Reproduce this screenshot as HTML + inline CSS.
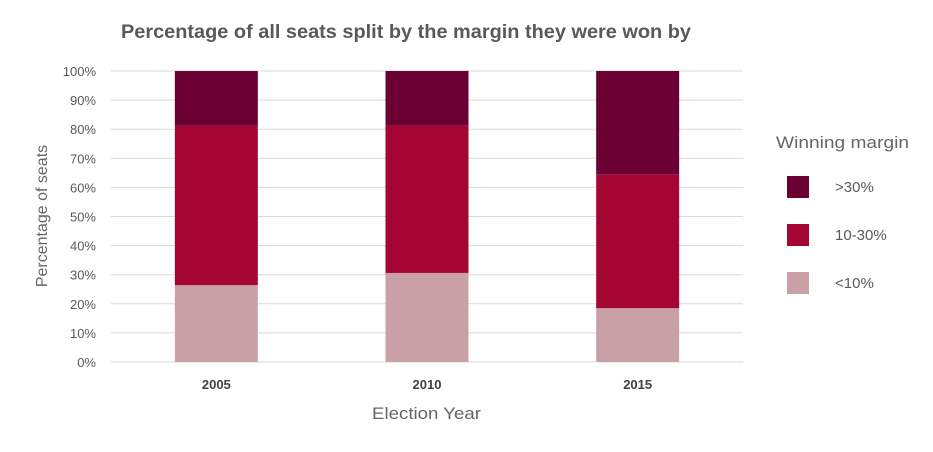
<!DOCTYPE html>
<html><head><meta charset="utf-8"><style>
html,body{margin:0;padding:0;background:#fff;}
svg{display:block;font-family:"Liberation Sans",sans-serif;}
</style></head><body>
<svg id="chart" width="933" height="452" viewBox="0 0 933 452">
<text x="121" y="38" font-size="19" font-weight="bold" fill="#595959" textLength="570" lengthAdjust="spacingAndGlyphs">Percentage of all seats split by the margin they were won by</text>
<g id="grid"></g>
<g id="yticks"></g>
<g id="bars"></g>
<g id="xticks"></g>
<text transform="translate(47,216) rotate(-90)" text-anchor="middle" font-size="16" fill="#666">Percentage of seats</text>
<text x="372" y="419" font-size="17" fill="#666" textLength="109" lengthAdjust="spacingAndGlyphs">Election Year</text>
<g id="legend">
<text x="776" y="148" font-size="17" fill="#666" textLength="133" lengthAdjust="spacingAndGlyphs">Winning margin</text>
</g>
</svg>
<script>
const categories = ["2005", "2010", "2015"];
const seriesNames = [">30%", "10-30%", "<10%"];
const lowValues = [26.4, 30.6, 18.5];
const midValues = [54.9, 50.7, 46.0];
const highValues = [18.7, 18.7, 35.5];
const yTicks = [0, 10, 20, 30, 40, 50, 60, 70, 80, 90, 100];
const colors = ["#6b0033", "#a50533", "#c9a0a6"];

const NS = "http://www.w3.org/2000/svg";
const y0 = 362, y1 = 71, xL = 111, xR = 743;
const yScale = v => y0 - (v / 100) * (y0 - y1);
const band = (xR - xL) / categories.length;
const xCenter = i => xL + band * (i + 0.5);
const barW = 83;
function mk(tag, attrs, parent) {
  const e = document.createElementNS(NS, tag);
  for (const k in attrs) e.setAttribute(k, attrs[k]);
  parent.appendChild(e);
  return e;
}
const grid = document.getElementById('grid');
const yt = document.getElementById('yticks');
yTicks.forEach(t => {
  const l = mk('line', {x1: xL, x2: xR, y1: yScale(t), y2: yScale(t), stroke: '#d9d9d9', 'stroke-width': 1}, grid);
  
  
  const tx = mk('text', {x: 96, y: yScale(t) + 5, 'text-anchor': 'end', 'font-size': 13, fill: '#595959'}, yt);
  tx.textContent = t + '%';
  
  
});
const bars = document.getElementById('bars');
const xt = document.getElementById('xticks');
categories.forEach((c, i) => {
  const segs = [lowValues[i], midValues[i], highValues[i]];
  const cols = [colors[2], colors[1], colors[0]];
  let base = 0;
  segs.forEach((v, j) => {
    const r = mk('rect', {x: xCenter(i) - barW / 2, y: yScale(base + v), width: barW, height: yScale(base) - yScale(base + v), fill: cols[j]}, bars);
    
    
    base += v;
  });
  const tx = mk('text', {x: xCenter(i), y: 389, 'text-anchor': 'middle', 'font-size': 13, 'font-weight': 'bold', fill: '#404040'}, xt);
  tx.textContent = c;
  
  
});
const lg = document.getElementById('legend');
seriesNames.forEach((n, k) => {
  const yy = 176 + k * 48;
  const r = mk('rect', {x: 787, y: yy, width: 22, height: 22, fill: colors[k]}, lg);
  
  
  const t = mk('text', {x: 835, y: yy + 16, 'font-size': 15, fill: '#595959'}, lg);
  t.textContent = n;
  
  
});
</script>
</body></html>
